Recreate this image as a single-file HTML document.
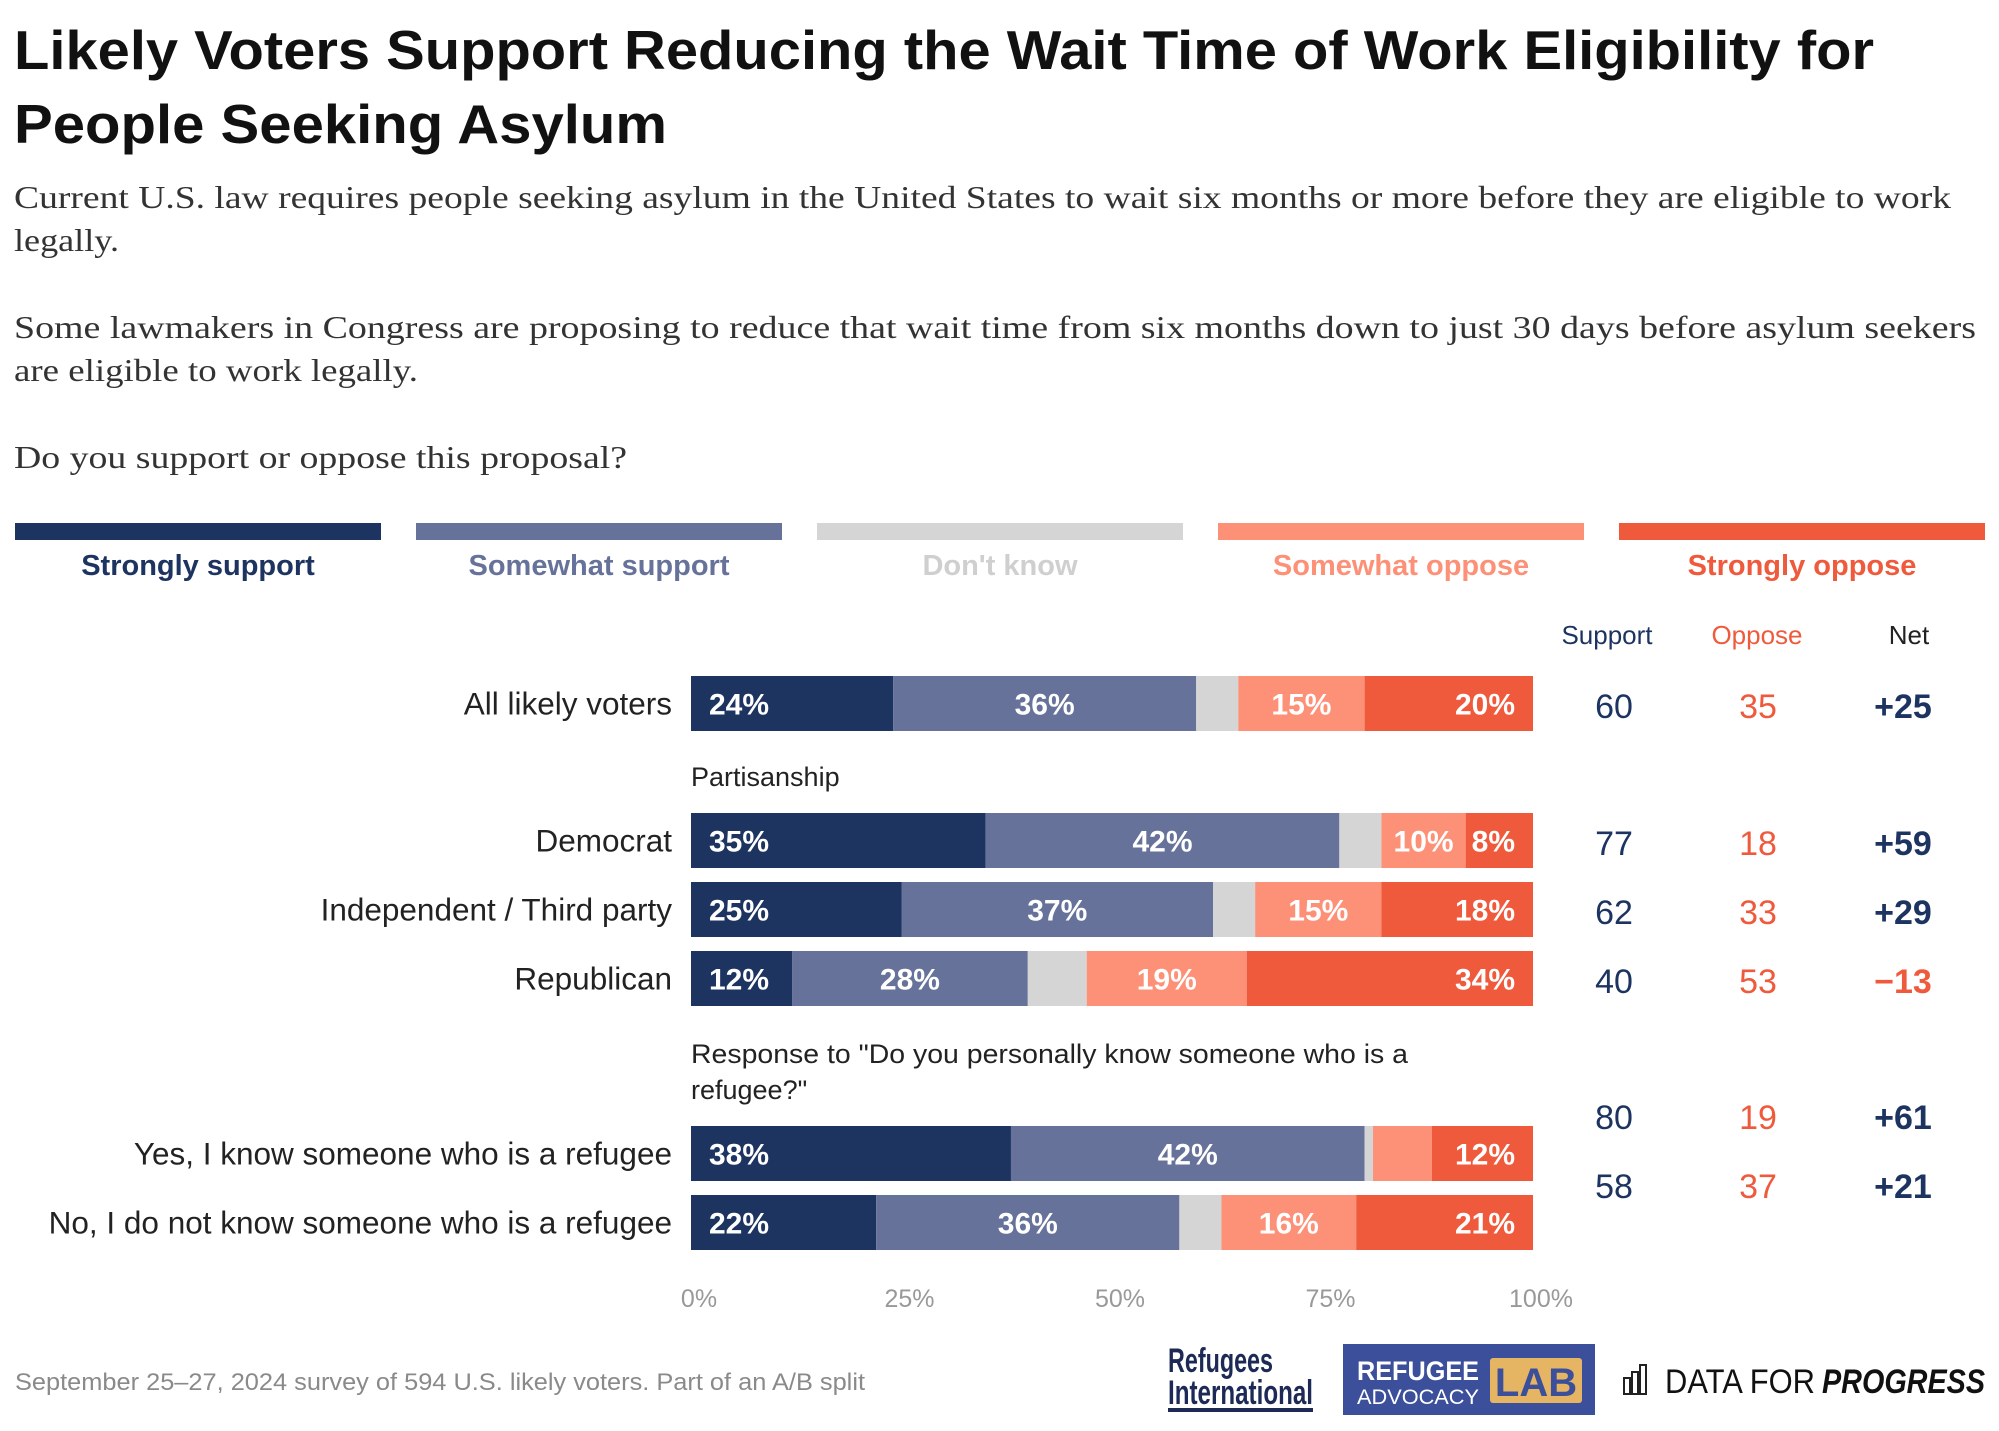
<!DOCTYPE html>
<html><head><meta charset="utf-8">
<style>
body{margin:0;background:#fff;width:1999px;height:1431px;overflow:hidden;font-family:"Liberation Sans",sans-serif;}
svg{display:block}
</style></head>
<body>
<svg id="chart" width="1999" height="1431" viewBox="0 0 1999 1431" xmlns="http://www.w3.org/2000/svg">
<g font-family="Liberation Sans, sans-serif" font-weight="bold" font-size="55" fill="#111">
<text x="14" y="69" textLength="1860" lengthAdjust="spacingAndGlyphs">Likely Voters Support Reducing the Wait Time of Work Eligibility for</text>
<text x="14" y="143" textLength="653" lengthAdjust="spacingAndGlyphs">People Seeking Asylum</text>
</g>
<g font-family="Liberation Serif, serif" font-size="32" fill="#333">
<text x="14" y="208" textLength="1937" lengthAdjust="spacingAndGlyphs">Current U.S. law requires people seeking asylum in the United States to wait six months or more before they are eligible to work</text>
<text x="14" y="251" textLength="105" lengthAdjust="spacingAndGlyphs">legally.</text>
<text x="14" y="338" textLength="1962" lengthAdjust="spacingAndGlyphs">Some lawmakers in Congress are proposing to reduce that wait time from six months down to just 30 days before asylum seekers</text>
<text x="14" y="381" textLength="404" lengthAdjust="spacingAndGlyphs">are eligible to work legally.</text>
<text x="14" y="468" textLength="613" lengthAdjust="spacingAndGlyphs">Do you support or oppose this proposal?</text>
</g>
<g id="legend"></g>
<g id="headers" font-size="26" text-anchor="middle">
<text x="1607" y="644" fill="#1d3461">Support</text>
<text x="1757" y="644" fill="#f05a3c">Oppose</text>
<text x="1909" y="644" fill="#222">Net</text>
</g>
<g font-size="27" fill="#222">
<text x="691" y="786">Partisanship</text>
<text x="691" y="1063" textLength="717" lengthAdjust="spacingAndGlyphs">Response to "Do you personally know someone who is a</text>
<text x="691" y="1099">refugee?"</text>
</g>
<g id="bars"></g>
<g id="axis"></g>
<text x="15" y="1390" font-size="24" fill="#8a8a8a" textLength="850" lengthAdjust="spacingAndGlyphs">September 25–27, 2024 survey of 594 U.S. likely voters. Part of an A/B split</text>
<g>
<text x="1168" y="1372" font-size="34" font-weight="bold" fill="#1d2a55" textLength="105" lengthAdjust="spacingAndGlyphs">Refugees</text>
<text x="1168" y="1404" font-size="34" font-weight="bold" fill="#1d2a55" textLength="145" lengthAdjust="spacingAndGlyphs">International</text>
<rect x="1168" y="1408" width="145" height="4" fill="#1d2a55"/>
</g>
<g>
<rect x="1343" y="1344" width="252" height="71" fill="#3b4f9a"/>
<text x="1357" y="1380" font-size="27" font-weight="bold" fill="#fff" textLength="122" lengthAdjust="spacingAndGlyphs">REFUGEE</text>
<text x="1357" y="1404" font-size="21" fill="#fff" textLength="122" lengthAdjust="spacingAndGlyphs">ADVOCACY</text>
<rect x="1490" y="1358" width="92" height="45" rx="3" fill="#e6b563"/>
<text x="1536" y="1396" font-size="40" font-weight="bold" fill="#3b4f9a" text-anchor="middle">LAB</text>
</g>
<g>
<g fill="none" stroke="#222" stroke-width="2"><rect x="1624" y="1378" width="6" height="16"/><rect x="1632" y="1372" width="6" height="22"/><rect x="1640" y="1365" width="6" height="29"/></g>
<text x="1665" y="1393" font-size="34" fill="#111" textLength="150" lengthAdjust="spacingAndGlyphs">DATA FOR</text>
<text x="1822" y="1393" font-size="34" font-weight="bold" font-style="italic" fill="#111" textLength="163" lengthAdjust="spacingAndGlyphs">PROGRESS</text>
</g>
</svg>
<script>
const legendLabels=["Strongly support","Somewhat support","Don't know","Somewhat oppose","Strongly oppose"];
const colors=["#1d3461","#67729a","#d5d5d5","#fd9178","#f05a3c"];
const legendTextColors=["#1d3461","#67729a","#cfcfcf","#fd9178","#f05a3c"];
const categories=["All likely voters","Democrat","Independent / Third party","Republican","Yes, I know someone who is a refugee","No, I do not know someone who is a refugee"];
const stronglySupport=[24,35,25,12,38,22];
const somewhatSupport=[36,42,37,28,42,36];
const dontKnow=[5,5,5,7,1,5];
const somewhatOppose=[15,10,15,19,7,16];
const stronglyOppose=[20,8,18,34,12,21];
const supportTotals=[60,77,62,40,80,58];
const opposeTotals=[35,18,33,53,19,37];
const netValues=[25,59,29,-13,61,21];
const tickValues=[0,25,50,75,100];
const tickLabels=["0%","25%","50%","75%","100%"];

const NS="http://www.w3.org/2000/svg";
function mk(tag,attrs,parent,txt){const e=document.createElementNS(NS,tag);for(const k in attrs)e.setAttribute(k,attrs[k]);if(txt!==undefined)e.textContent=txt;parent.appendChild(e);return e;}
const X0=691,X1=1533;
function xScale(v){return X0+(X1-X0)*v/100;}
const rowTops=[676,813,882,951,1126,1195];
const numYs=[706,843,912,981,1117,1186];
const barH=55;

const lg=document.getElementById('legend');
legendLabels.forEach((l,i)=>{
  const x=15+i*401;
  const r=mk('rect',{x:x,y:523,width:366,height:17,fill:colors[i]},lg);
  
  
  const t=mk('text',{x:x+183,y:575,'text-anchor':'middle','font-size':'29','font-weight':'bold',fill:legendTextColors[i]},lg,l);
  
  
});

const series=[stronglySupport,somewhatSupport,dontKnow,somewhatOppose,stronglyOppose];
const bg=document.getElementById('bars');
categories.forEach((c,ri)=>{
  const y=rowTops[ri];
  const lab=mk('text',{x:672,y:y+barH/2+11,'text-anchor':'end','font-size':'31.5',fill:'#222'},bg,c);
  
  
  let acc=0;
  series.forEach((s,si)=>{
    const v=s[ri];
    const xa=xScale(acc),xb=xScale(acc+v);
    const r=mk('rect',{x:xa,y:y,width:xb-xa,height:barH,fill:colors[si]},bg);
    
    
    if(si!==2 && v>=8){
      let tx,anchor='middle';
      if(si===0){tx=xa+18;anchor='start';}
      else if(si===4){tx=xb-18;anchor='end';}
      else tx=(xa+xb)/2;
      const t=mk('text',{x:tx,y:y+barH/2+11,'text-anchor':anchor,'font-size':'30','font-weight':'bold',fill:'#fff'},bg,v+'%');
      
      
    }
    acc+=v;
  });
  const ny=numYs[ri]+12;
  const s1=mk('text',{x:1614,y:ny,'text-anchor':'middle','font-size':'34',fill:'#1d3461'},bg,supportTotals[ri]);
  
  
  const o1=mk('text',{x:1758,y:ny,'text-anchor':'middle','font-size':'34',fill:'#f05a3c'},bg,opposeTotals[ri]);
  
  
  const n=netValues[ri];
  const n1=mk('text',{x:1903,y:ny,'text-anchor':'middle','font-size':'34','font-weight':'bold',fill:n>=0?'#1d3461':'#f05a3c'},bg,(n>=0?'+':'−')+Math.abs(n));
  
  
});

const ax=document.getElementById('axis');
tickValues.forEach((v,i)=>{
  const t=mk('text',{x:xScale(v)+8,y:1307,'text-anchor':'middle','font-size':'25',fill:'#999'},ax,tickLabels[i]);
  
  
});
</script>
</body></html>
